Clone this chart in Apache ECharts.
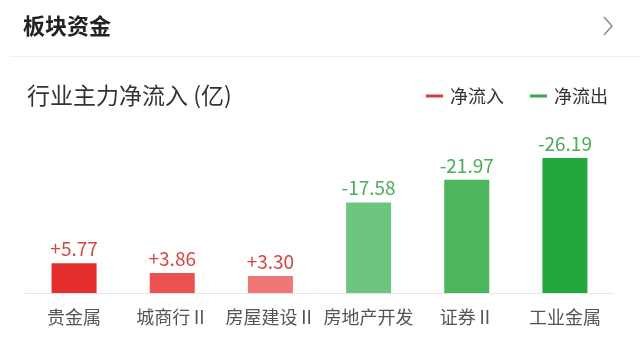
<!DOCTYPE html>
<html>
<head>
<meta charset="utf-8">
<script src="https://cdn.jsdelivr.net/npm/echarts@6/dist/echarts.min.js"></script>
<style>
html,body{margin:0;padding:0;background:#fff;}
#c{width:640px;height:343px;}
</style>
</head>
<body>
<div id="c"></div>
<script>
const categories = ['贵金属', '城商行Ⅱ', '房屋建设Ⅱ', '房地产开发', '证券Ⅱ', '工业金属'];
const netFlow = [5.77, 3.86, 3.30, -17.58, -21.97, -26.19];
const barColors = ['#e62d2d', '#ec5152', '#f07676', '#6dc67e', '#4cb55e', '#22a83b'];

const FONT = '"Noto Sans CJK SC", "Noto Sans", sans-serif';
const inflow = netFlow.map((v, i) => v > 0 ? { value: v, itemStyle: { color: barColors[i] } } : '-');
const outflow = netFlow.map((v, i) => v < 0 ? { value: -v, itemStyle: { color: barColors[i] } } : '-');

const chart = echarts.init(document.getElementById('c'));
chart.setOption({
  animation: false,
  backgroundColor: '#fff',
  textStyle: { fontFamily: FONT },
  title: {
    text: '行业主力净流入 (亿)',
    left: 22, top: 79,
    textStyle: { fontSize: 23, fontWeight: 'normal', color: '#333', fontFamily: FONT }
  },
  legend: {
    right: 27, top: 82,
    icon: 'rect', itemWidth: 17, itemHeight: 3, itemGap: 26,
    textStyle: { fontSize: 18, color: '#333', fontFamily: FONT, padding: [0, 0, 0, 2] },
    data: ['净流入', '净流出']
  },
  graphic: [
    { type: 'text', left: 23, top: 15, style: { text: '板块资金', fontSize: 22, fontWeight: 'bold', fill: '#222', fontFamily: FONT } },
    { type: 'polyline', shape: { points: [[604, 17], [612, 26], [604, 35]] }, style: { stroke: '#8a8a8a', lineWidth: 1.5, fill: null } },
    { type: 'rect', shape: { x: 10, y: 56, width: 630, height: 1 }, style: { fill: '#efefef' } }
  ],
  grid: { left: 25, right: 26, top: 138.5, bottom: 50 },
  xAxis: {
    type: 'category',
    data: categories,
    axisLine: { lineStyle: { color: '#e6e6e6', width: 1 } },
    axisTick: { show: false },
    axisLabel: { interval: 0, color: '#555', fontSize: 18, margin: 15, fontFamily: FONT }
  },
  yAxis: { type: 'value', min: 0, max: 30, show: false, splitLine: { show: false } },
  series: [
    {
      name: '净流入', type: 'bar', stack: 's', barWidth: 45,
      itemStyle: { color: '#d93b3b' },
      data: inflow,
      label: { show: true, position: 'top', distance: 5, color: '#d64545', fontSize: 19, fontFamily: FONT,
        formatter: p => '+' + p.value.toFixed(2) }
    },
    {
      name: '净流出', type: 'bar', stack: 's', barWidth: 45,
      itemStyle: { color: '#3aa84a' },
      data: outflow,
      label: { show: true, position: 'top', distance: 5, color: '#4aab58', fontSize: 19, fontFamily: FONT,
        formatter: p => '-' + p.value.toFixed(2) }
    }
  ]
});
</script>
</body>
</html>
